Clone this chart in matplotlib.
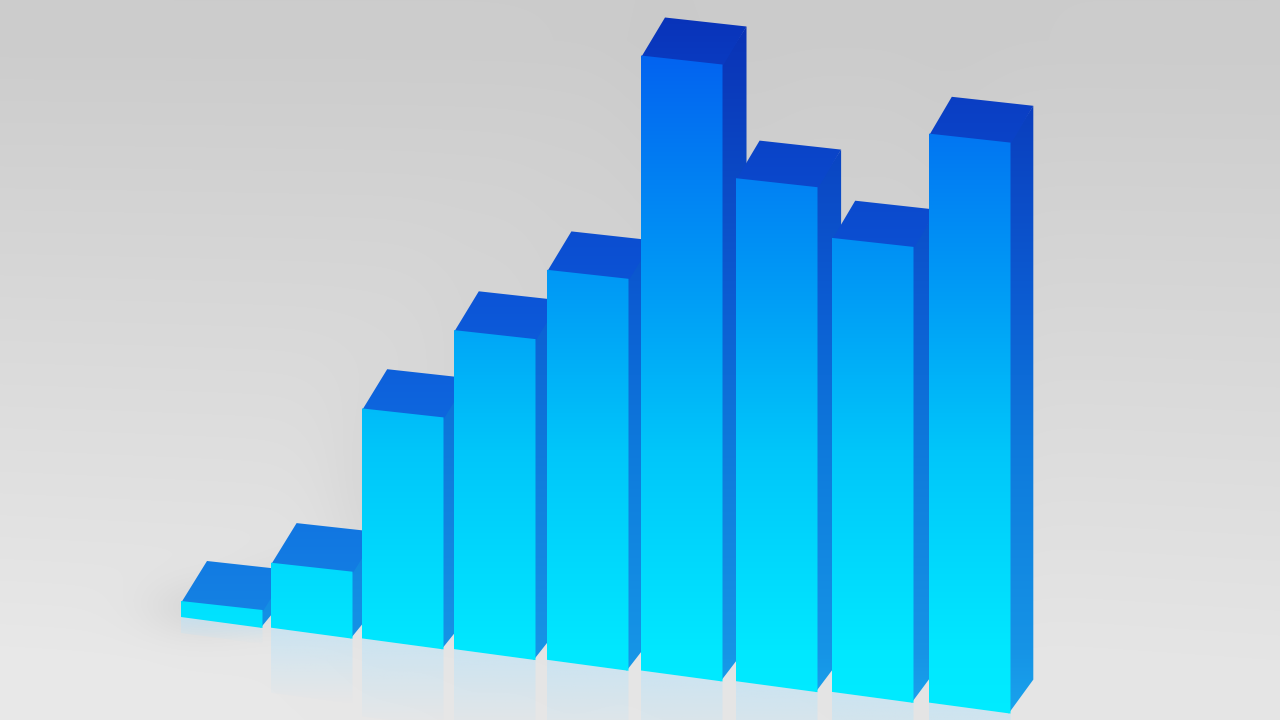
import matplotlib

matplotlib.use("Agg")

import matplotlib.pyplot as plt
import numpy as np
from matplotlib.patches import Polygon


bar_values = [16, 65, 230, 319, 390, 615, 503, 454, 569]

BAR_WIDTH = 81.5

# colour stops, screen y -> rgb
stop_y = [0, 60, 300, 450, 650, 720]
front_stops = [(0, 90, 235), (3, 100, 240), (0, 158, 246), (0, 198, 250), (0, 232, 255), (0, 236, 255)]
side_stops = [(10, 48, 178), (10, 55, 185), (12, 92, 210), (14, 122, 220), (22, 148, 230), (26, 165, 238)]
top_stops = [(8, 48, 182), (10, 58, 192), (12, 85, 215), (14, 108, 224), (22, 135, 228), (26, 145, 232)]


def gradient(stops):
    ys = np.arange(720)
    rgb = [np.interp(ys, stop_y, [s[k] for s in stops]) for k in range(3)]
    return np.stack(rgb, axis=1).reshape(720, 1, 3) / 255


def fill_face(ax, points, image, zorder):
    face = Polygon(points, closed=True, transform=ax.transData, facecolor="none", edgecolor="none")
    ax.add_patch(face)
    im = ax.imshow(image, extent=(0, 1280, 720, 0), aspect="auto", zorder=zorder, interpolation="bilinear")
    im.set_clip_path(face)


def bar_position(i):
    left = 181 + 89.5 * i + 0.5 * i**2
    base = 617 + 10.7 * i
    dx = 26 - 0.4 * i
    dy = -40 + 0.4 * i
    return left, base, dx, dy


def background(values):
    xx, yy = np.meshgrid(np.arange(1280), np.arange(720))
    gray = 204 + 25 * np.clip((yy - 40) / 620, 0, 1)
    gray = gray + 4 * (1 - xx / 1280) * (yy / 720)
    # soft shadow behind the bars, strongest by the low ones
    for i, value in enumerate(values):
        left, base, dx, dy = bar_position(i)
        cy = base - value * 0.55
        sy = max(value * 0.5, 30)
        weight = 0.3 + 0.7 * (620 - value) / 620
        gray -= 13 * weight * np.exp(-((xx - left - 20) / 55) ** 2 - ((yy - cy) / sy) ** 2)
    gray = np.clip(gray, 0, 255) / 255
    return np.dstack([gray, gray, gray])


def draw_bar(ax, i, value, front_img, side_img, top_img, zorder):
    left, base, dx, dy = bar_position(i)
    right = left + BAR_WIDTH
    bl = (left, base)
    br = (right, base + 11)
    tl = (left, base - value)
    tr = (right, base - value + 9)
    tr_back = (right + dx, base - value + 9 + dy)
    tl_back = (left + dx, base - value + dy)
    br_back = (right + dx, base + 11 - 34)

    # reflection on the floor, fades out downward
    reflect_len = min(value, 78)
    fade = np.linspace(0.62, 0, 64)
    ref = np.zeros((64, 1, 4))
    ref[:, 0, :3] = np.array([188, 228, 250]) / 255
    ref[:, 0, 3] = fade
    ref_poly = Polygon(
        [bl, br, (right, base + 11 + reflect_len), (left, base + reflect_len)],
        closed=True, facecolor="none", edgecolor="none",
    )
    ax.add_patch(ref_poly)
    im = ax.imshow(ref, extent=(left, right, base + reflect_len + 11, base), aspect="auto", zorder=1)
    im.set_clip_path(ref_poly)

    # side and top run a little under the front so no seam shows
    side_pts = [(br[0] - 2, br[1]), (tr[0] - 2, tr[1] + 2), tr_back, br_back]
    top_pts = [(tl[0], tl[1] + 2), (tr[0], tr[1] + 2), tr_back, tl_back]
    fill_face(ax, side_pts, side_img, zorder)
    fill_face(ax, top_pts, top_img, zorder + 0.1)
    fill_face(ax, [bl, br, tr, tl], front_img, zorder + 0.2)


def main():
    fig = plt.figure(figsize=(12.8, 7.2), dpi=100)
    ax = fig.add_axes([0, 0, 1, 1])
    ax.imshow(background(bar_values), extent=(0, 1280, 720, 0), aspect="auto", zorder=0)

    front_img = gradient(front_stops)
    side_img = gradient(side_stops)
    top_img = gradient(top_stops)

    for i, value in enumerate(bar_values):
        draw_bar(ax, i, value, front_img, side_img, top_img, 2 + i)

    ax.set_xlim(0, 1280)
    ax.set_ylim(720, 0)
    ax.axis("off")
    fig.savefig("out.png", dpi=100)
    plt.close(fig)


if __name__ == "__main__":
    main()
